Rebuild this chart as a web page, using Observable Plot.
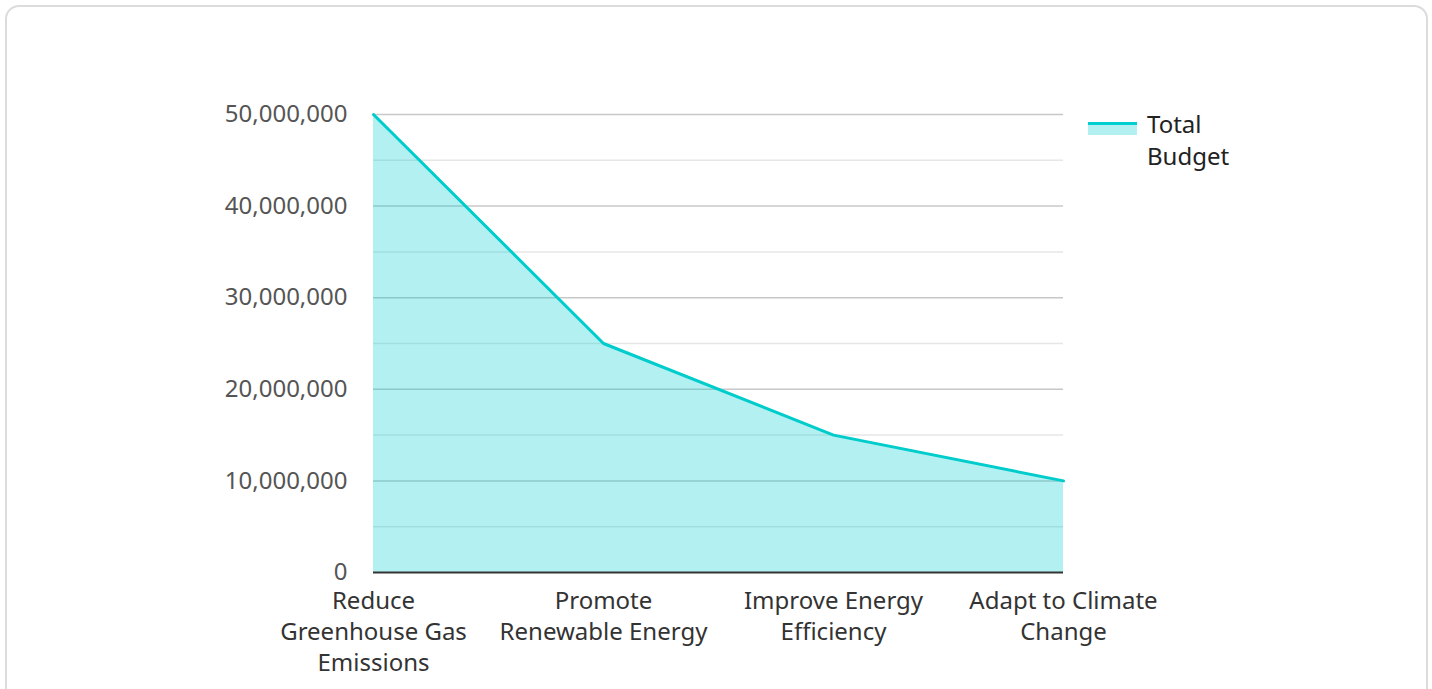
<!DOCTYPE html>
<html>
<head>
<meta charset="utf-8">
<script src="https://cdn.jsdelivr.net/npm/d3@7"></script>
<script src="https://cdn.jsdelivr.net/npm/@observablehq/plot@0.6"></script>
<style>
  html, body { margin: 0; padding: 0; background: #fff; }
  body { font-family: "Noto Sans", sans-serif; }
  #wrap { position: relative; width: 1432px; height: 689px; overflow: hidden; }
  #card { position: absolute; left: 5px; top: 5px; width: 1423px; height: 720px;
          border: 2px solid #dcdcdc; border-radius: 14px; box-sizing: border-box; }
  #chart { position: absolute; left: 0; top: 0; }
  #legend { position: absolute; left: 1088px; top: 108px; display: flex; align-items: flex-start;
            font-family: "Noto Sans", sans-serif; font-size: 24px; color: #222; }
  #legend .sw { width: 49px; height: 13px; margin-top: 14px; background: rgba(0,206,209,0.3);
                border-top: 3px solid #00CED1; box-sizing: border-box; }
  #legend .lb { margin-left: 10px; width: 100px; line-height: 32px; }
</style>
</head>
<body>
<div id="wrap">
  <div id="card"></div>
  <div id="chart"></div>
  <div id="legend"><div class="sw"></div><div class="lb">Total Budget</div></div>
</div>
<script>
const categories = [
  "Reduce Greenhouse Gas Emissions",
  "Promote Renewable Energy",
  "Improve Energy Efficiency",
  "Adapt to Climate Change"
];
const wrappedLabels = [
  "Reduce\nGreenhouse Gas\nEmissions",
  "Promote\nRenewable Energy",
  "Improve Energy\nEfficiency",
  "Adapt to Climate\nChange"
];
const totalBudget = [50000000, 25000000, 15000000, 10000000];
const yTicks = [0, 10000000, 20000000, 30000000, 40000000, 50000000];
const yMinorTicks = [5000000, 15000000, 25000000, 35000000, 45000000];

const data = categories.map((c, i) => ({category: c, value: totalBudget[i]}));
const labelOf = new Map(categories.map((c, i) => [c, wrappedLabels[i]]));

const chart = Plot.plot({
  width: 1432,
  height: 689,
  marginLeft: 373,
  marginRight: 369,
  marginTop: 114,
  marginBottom: 117,
  style: {fontFamily: "Noto Sans, sans-serif", background: "transparent"},
  x: {type: "point", domain: categories, padding: 0},
  y: {domain: [0, 50000000]},
  marks: [
    Plot.ruleY(yMinorTicks, {stroke: "#e6e6e6", strokeWidth: 1.5}),
    Plot.ruleY(yTicks.filter(d => d > 0), {stroke: "#c8c8c8", strokeWidth: 1.5}),
    Plot.areaY(data, {x: "category", y: "value", fill: "#00CED1", fillOpacity: 0.3}),
    Plot.lineY(data, {x: "category", y: "value", stroke: "#00CCCC", strokeWidth: 3}),
    Plot.ruleY([0], {stroke: "#333", strokeWidth: 2}),
    Plot.axisY({ticks: yTicks, tickFormat: d3.format(","), tickSize: 0, tickPadding: 26,
                fontSize: 24, fill: "#555", label: null}),
    Plot.axisX({tickFormat: d => labelOf.get(d), tickSize: 0, tickPadding: 15,
                fontSize: 24, fill: "#333", lineHeight: 1.29, label: null})
  ]
});
document.getElementById("chart").appendChild(chart);
</script>
</body>
</html>
